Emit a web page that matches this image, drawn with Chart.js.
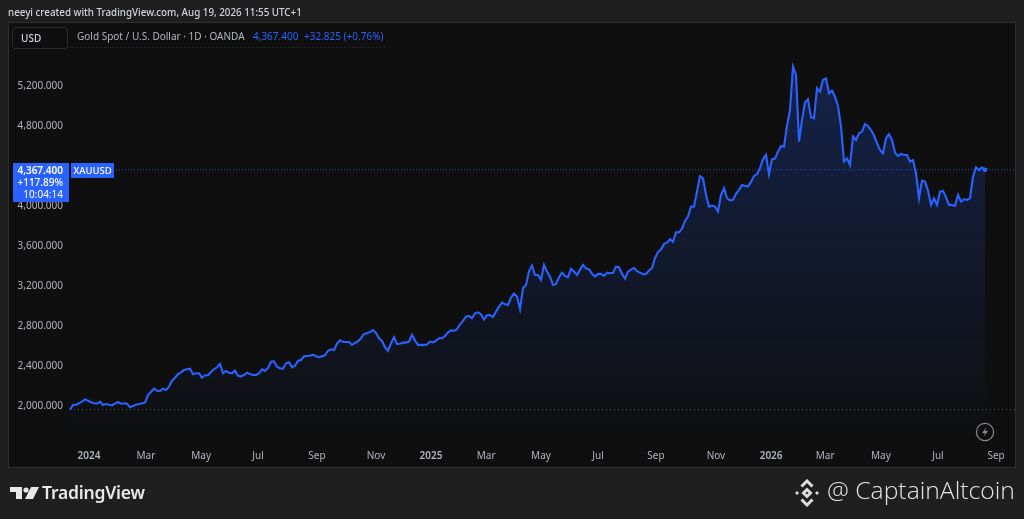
<!DOCTYPE html>
<html>
<head>
<meta charset="utf-8">
<title>Gold Spot / U.S. Dollar</title>
<script src="https://cdn.jsdelivr.net/npm/chart.js@4"></script>
<style>
    html, body { margin: 0; padding: 0; width: 1024px; height: 519px; overflow: hidden; background: #1f1f1f; font-family: "Noto Sans", sans-serif; }
    #panel { position: absolute; left: 9px; top: 23px; width: 1006px; height: 444px; background: #0f0f0f; box-shadow: 0 0 0 1px #2e2e2e; }
    canvas { position: absolute; left: 0; top: 0; }
    .txt { position: absolute; white-space: nowrap; line-height: 1; }
    #created { left: 8px; top: 8px; font-size: 9.8px; font-weight: 500; color: #d1d4dc; }
    #usd { position: absolute; left: 12px; top: 27px; width: 54px; height: 20px; border: 1px solid #2a2a2a; border-radius: 3px; box-sizing: content-box; }
    #usd span { position: absolute; left: 8px; top: 5px; font-size: 10px; font-weight: 500; color: #d1d4dc; line-height: 1; }
    #legend { left: 77px; top: 31px; font-size: 10px; color: #b2b5be; }
    #legendLast { left: 253px; top: 31px; font-size: 10px; color: #2962ff; }
    #legendChange { left: 304px; top: 31px; font-size: 10px; color: #2962ff; }
    #legendRule { position: absolute; left: 70px; top: 47px; width: 315px; border-top: 1px dotted #2a2a2a; }
    #priceTag { position: absolute; left: 13px; top: 163px; width: 56px; height: 39px; background: #2962ff; color: #fff; font-size: 10px; text-align: right; }
    #priceTag div { position: absolute; right: 6px; line-height: 1; white-space: nowrap; }
    #symbolTag { position: absolute; left: 71px; top: 163px; width: 43px; height: 15px; background: #2962ff; color: #fff; font-size: 9.5px; font-weight: 500; line-height: 15px; text-align: center; }
    #bolt { position: absolute; left: 975px; top: 422px; }
    #tvLogo { position: absolute; left: 10px; top: 486px; }
    #tvName { left: 42px; top: 484px; font-size: 17.5px; font-weight: 600; color: #e8e8e8; letter-spacing: -0.2px; }
    #binance { position: absolute; left: 793px; top: 479px; }
    #captain { left: 827px; top: 478px; font-family: "Open Sans", sans-serif; font-size: 24.7px; font-weight: 300; color: #e4e4e4; }
</style>
</head>
<body>
<div id="panel"></div>
<canvas id="goldChart" width="1024" height="519"></canvas>

<div class="txt" id="created">neeyi created with TradingView.com, Aug 19, 2026 11:55 UTC+1</div>
<div id="usd"><span>USD</span></div>
<div class="txt" id="legend">Gold Spot / U.S. Dollar · 1D · OANDA</div>
<div class="txt" id="legendLast">4,367.400</div>
<div class="txt" id="legendChange">+32.825 (+0.76%)</div>
<div id="legendRule"></div>

<div id="priceTag">
    <div style="top:2px;font-weight:600">4,367.400</div>
    <div style="top:14px;font-weight:500">+117.89%</div>
    <div style="top:26px">10:04:14</div>
</div>
<div id="symbolTag">XAUUSD</div>

<svg id="bolt" width="20" height="20" viewBox="0 0 20 20">
    <circle cx="10" cy="10" r="8.6" fill="none" stroke="#8a8a8a" stroke-width="1.2"/>
    <path d="M11.5 5 L7 11 H10 L8.6 15 L13 9 H10 Z" fill="#8a8a8a"/>
</svg>

<svg id="tvLogo" width="30" height="14" viewBox="0 0 30 14">
    <path d="M0 1 H12 V13 H6 V6 H0 Z" fill="#e8e8e8"/>
    <circle cx="16" cy="4" r="2.6" fill="#e8e8e8"/>
    <path d="M21 1 H29 L23 13 H15 Z" fill="#e8e8e8"/>
</svg>
<div class="txt" id="tvName">TradingView</div>

<svg id="binance" width="28" height="28" viewBox="0 0 28 28" fill="none" stroke="#dcdcdc" stroke-width="3">
    <path d="M8.5 7.5 L14 2 L19.5 7.5"/>
    <path d="M8.5 20.5 L14 26 L19.5 20.5"/>
    <path d="M14 10.5 L17.5 14 L14 17.5 L10.5 14 Z"/>
    <path d="M2 14 L4 12 L6 14 L4 16 Z" fill="#dcdcdc" stroke="none"/>
    <path d="M22 14 L24 12 L26 14 L24 16 Z" fill="#dcdcdc" stroke="none"/>
</svg>
<div class="txt" id="captain">@ CaptainAltcoin</div>

<script>
// XAUUSD closes, one sample about every 2.3 sessions
const closes = [
    1970, 2016, 2019, 2033, 2049, 2073, 2059, 2043, 2033, 2029, 2049, 2016, 2026, 2019, 2013, 2029, 2046, 2029, 2033, 2029,
    1993, 2006, 2019, 2026, 2033, 2039, 2116, 2149, 2179, 2159, 2156, 2179, 2166, 2199, 2259, 2289, 2326, 2343, 2366, 2373,
    2379, 2323, 2333, 2333, 2289, 2313, 2313, 2346, 2373, 2393, 2426, 2333,
    2356, 2339, 2333, 2359, 2309, 2303, 2316, 2339, 2326, 2316, 2316, 2333, 2373, 2356, 2386, 2449, 2453, 2399, 2383, 2379,
    2433, 2443, 2393, 2409, 2459, 2466, 2503, 2506, 2509, 2519, 2503, 2493, 2503, 2513, 2559, 2573, 2566, 2629, 2663, 2646,
    2646, 2646, 2616, 2636, 2653, 2683, 2726, 2733, 2746, 2766, 2736, 2683, 2656, 2593, 2559, 2633, 2693, 2626, 2629,
    2640, 2640, 2650, 2717, 2660, 2617, 2617, 2617, 2620, 2650, 2643, 2660, 2683, 2683, 2707, 2743, 2763, 2757, 2773, 2823,
    2857, 2900, 2907, 2883, 2933, 2943, 2923, 2870, 2913, 2916, 2897, 2950, 3000, 3040, 3023, 3016, 3090, 3130, 3100, 2977,
    3183, 3216, 3356, 3410, 3316, 3316,
    3267, 3417, 3350, 3300, 3217, 3227, 3294, 3340, 3307, 3294, 3377, 3350, 3317, 3367, 3417, 3380, 3374, 3327, 3300, 3327,
    3327, 3307, 3340, 3333, 3337, 3400, 3394, 3327, 3280, 3350, 3370, 3387, 3354, 3340, 3324, 3327, 3360, 3384, 3484, 3547,
    3570, 3627, 3640, 3673, 3647, 3743, 3743, 3780, 3857, 3900, 4000, 4000, 4150, 4306, 4283, 4116, 4000,
    4011, 4001, 3951, 4117, 4184, 4084, 4061, 4067, 4127, 4167, 4217, 4207, 4201, 4247, 4307, 4324, 4384, 4473, 4517, 4324,
    4473, 4480, 4550, 4607, 4600, 4807, 4967, 5399, 5316, 4650, 4867, 5040, 5073, 4893, 4883, 5183, 5150, 5266, 5283, 5133,
    5160, 5100, 5006,
    4799, 4450, 4483, 4416, 4700, 4666, 4733, 4750, 4826, 4806, 4766, 4713, 4633, 4566, 4533, 4683, 4723, 4666, 4540, 4506,
    4526, 4516, 4516, 4450, 4466, 4333, 4083, 4260, 4250, 4160, 4017, 4083, 4017, 4150, 4157, 4093, 4017, 4017, 4007, 4117,
    4050, 4073, 4067, 4083, 4300, 4393, 4366, 4393, 4367.4
];

const priceTicks = [2000, 2400, 2800, 3200, 3600, 4000, 4800, 5200];

// where each date label falls, counted in samples of closes
const dateTicks = [6.3, 25.3, 43.7, 62.7, 82.3, 102, 120.3, 138.7, 157, 176, 195.3, 215.3, 233.7, 251.7, 270.3, 289.3, 308.7];
const dateLabels = ['2024', 'Mar', 'May', 'Jul', 'Sep', 'Nov', '2025', 'Mar', 'May', 'Jul', 'Sep', 'Nov', '2026', 'Mar', 'May', 'Jul', 'Sep'];

const lastPrice = closes[closes.length - 1];
const basePrice = closes[0];

const xMin = -0.67;
const xMax = 315;
const yMin = 1636;
const yMax = 5826;

const fmtPrice = v => v.toLocaleString('en-US', { minimumFractionDigits: 3, maximumFractionDigits: 3 });

function areaGradient(context) {
    const { ctx, chartArea } = context.chart;
    if (!chartArea) return 'transparent';
    const g = ctx.createLinearGradient(0, chartArea.top, 0, chartArea.bottom);
    g.addColorStop(0, 'rgba(41, 98, 255, 0.28)');
    g.addColorStop(1, 'rgba(41, 98, 255, 0)');
    return g;
}

new Chart(document.getElementById('goldChart'), {
    type: 'line',
    data: {
        datasets: [
            {
                label: 'XAUUSD',
                data: closes.map((y, x) => ({ x, y })),
                borderColor: '#2962ff',
                borderWidth: 2.1,
                backgroundColor: areaGradient,
                fill: 'start',
                tension: 0,
                pointRadius: c => (c.dataIndex === closes.length - 1 ? 2.4 : 0),
                pointBackgroundColor: '#2962ff',
                pointBorderWidth: 0
            },
            {
                label: 'Last price',
                data: [{ x: xMin, y: lastPrice }, { x: xMax, y: lastPrice }],
                borderColor: 'rgba(41, 98, 255, 0.8)',
                borderWidth: 1,
                borderDash: [1, 2],
                pointRadius: 0
            },
            {
                label: 'Base',
                data: [{ x: 0, y: basePrice }, { x: xMax, y: basePrice }],
                borderColor: 'rgba(255, 255, 255, 0.28)',
                borderWidth: 1,
                borderDash: [1, 3],
                pointRadius: 0
            }
        ]
    },
    options: {
        responsive: false,
        animation: false,
        devicePixelRatio: 1,
        layout: { padding: { left: 9, right: 9, top: 24, bottom: 52 } },
        plugins: { legend: { display: false }, tooltip: { enabled: false } },
        scales: {
            x: {
                type: 'linear',
                min: xMin,
                max: xMax,
                grid: { display: false, drawTicks: false },
                border: { display: false },
                afterBuildTicks: scale => { scale.ticks = dateTicks.map(value => ({ value })); },
                afterFit: scale => { scale.height = 24; },
                ticks: {
                    autoSkip: false,
                    maxRotation: 0,
                    padding: 7,
                    color: '#b2b5be',
                    font: c => ({ family: 'Noto Sans', size: 10, weight: /^\d/.test(dateLabels[c.index]) ? '600' : '400' }),
                    callback: (value, index) => dateLabels[index]
                }
            },
            y: {
                min: yMin,
                max: yMax,
                grid: { display: false, drawTicks: false },
                border: { display: false },
                afterBuildTicks: scale => { scale.ticks = priceTicks.map(value => ({ value })); },
                afterFit: scale => { scale.width = 59; },
                ticks: {
                    padding: 5,
                    color: '#b2b5be',
                    font: { family: 'Noto Sans', size: 10 },
                    callback: value => fmtPrice(value)
                }
            }
        }
    }
});
</script>
</body>
</html>
